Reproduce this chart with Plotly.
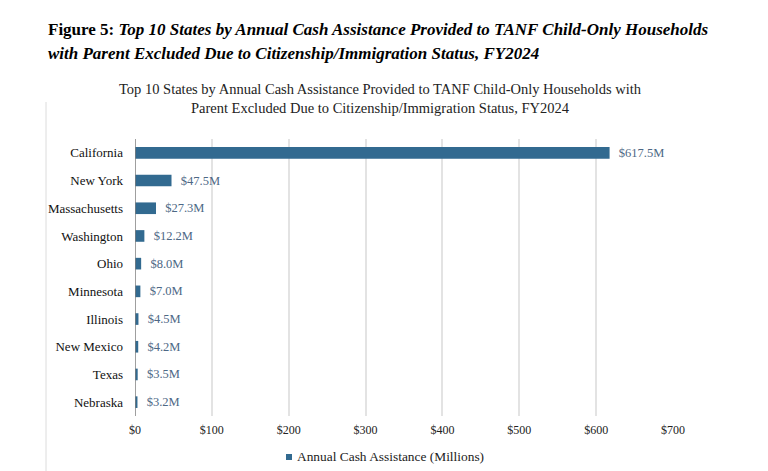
import plotly.graph_objects as go

states = ["California", "New York", "Massachusetts", "Washington", "Ohio",
          "Minnesota", "Illinois", "New Mexico", "Texas", "Nebraska"]
values = [617.5, 47.5, 27.3, 12.2, 8.0, 7.0, 4.5, 4.2, 3.5, 3.2]
labels = ["$617.5M", "$47.5M", "$27.3M", "$12.2M", "$8.0M",
          "$7.0M", "$4.5M", "$4.2M", "$3.5M", "$3.2M"]
tick_vals = [0, 100, 200, 300, 400, 500, 600, 700]
tick_text = ["$0", "$100", "$200", "$300", "$400", "$500", "$600", "$700"]
series_name = "Annual Cash Assistance (Millions)"

SERIF = "Liberation Serif, Times New Roman, serif"
W, H = 768, 471
L, R, T, B = 135, 95, 139, 55
PW, PH = W - L - R, H - T - B
BAR_COLOR = "#326a90"


def px(xp):
    return (xp - L) / PW


def py(yp):
    return (H - yp - B) / PH


fig = go.Figure()
fig.add_trace(go.Bar(
    y=states, x=values, orientation="h",
    name=series_name,
    marker=dict(color=BAR_COLOR, line=dict(width=0)),
    text=["  " + t for t in labels], textposition="outside",
    constraintext="none",
    textfont=dict(family=SERIF, size=12.5, color="#4d6885"),
    cliponaxis=False, showlegend=False,
))

fig.update_layout(
    width=W, height=H,
    margin=dict(l=L, r=R, t=T, b=B, pad=0),
    paper_bgcolor="white", plot_bgcolor="white",
    bargap=0.58,
    font=dict(family=SERIF, color="#000000"),
    showlegend=False,
    xaxis=dict(range=[0, 700], tickvals=tick_vals, ticktext=tick_text,
               showgrid=True, gridcolor="#e3e3e3", gridwidth=1.5,
               zeroline=False, showline=False, ticks="",
               ticklabelstandoff=5,
               tickfont=dict(family=SERIF, size=12, color="#222222"),
               fixedrange=True),
    yaxis=dict(autorange="reversed", showgrid=False, zeroline=False,
               showline=False, ticks="", ticklabelstandoff=11,
               tickfont=dict(family=SERIF, size=13, color="#111111")),
)

# axis line at x = 0
fig.add_shape(type="line", xref="x", yref="paper", x0=0, x1=0, y0=0, y1=1,
              line=dict(color="#7f7f7f", width=1.5))

# left frame border of the embedded chart
fig.add_shape(type="line", xref="paper", yref="paper",
              x0=px(46), x1=px(46), y0=py(471), y1=py(102),
              line=dict(color="#dcdcdc", width=1))

# legend (small square + text)
fig.add_shape(type="rect", xref="paper", yref="paper",
              x0=px(286), x1=px(292), y0=py(460), y1=py(454),
              fillcolor=BAR_COLOR, line=dict(width=0))
fig.add_annotation(
    text=series_name, xref="paper", yref="paper", x=px(294.5), xanchor="left",
    y=py(457), yanchor="middle", showarrow=False,
    font=dict(family=SERIF, size=13.4, color="#222222"))

# document figure caption
fig.add_annotation(
    text="<b>Figure 5: <i>Top 10 States by Annual Cash Assistance Provided to TANF Child-Only Households</i></b>",
    xref="paper", yref="paper", x=px(46), xanchor="left",
    y=py(30), yanchor="middle", showarrow=False,
    font=dict(family=SERIF, size=17, color="#000000"))
fig.add_annotation(
    text="<b><i>with Parent Excluded Due to Citizenship/Immigration Status, FY2024</i></b>",
    xref="paper", yref="paper", x=px(46), xanchor="left",
    y=py(53), yanchor="middle", showarrow=False,
    font=dict(family=SERIF, size=17, color="#000000"))

# chart title
fig.add_annotation(
    text="Top 10 States by Annual Cash Assistance Provided to TANF Child-Only Households with<br>Parent Excluded Due to Citizenship/Immigration Status, FY2024",
    xref="paper", yref="paper", x=px(380), xanchor="center",
    y=py(98.5), yanchor="middle", showarrow=False,
    align="center",
    font=dict(family=SERIF, size=14.5, color="#222222"))

fig.write_html("out.html")
